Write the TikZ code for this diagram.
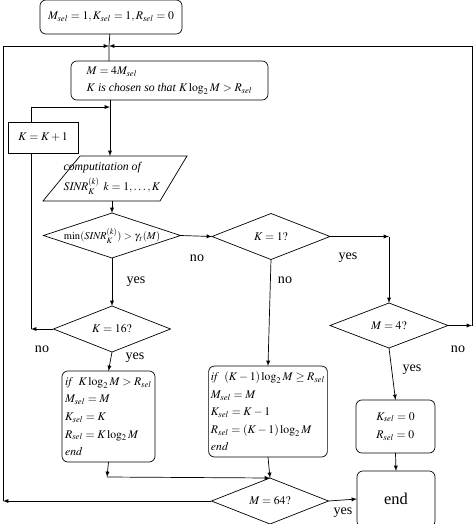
\documentclass[tikz,border=0pt]{standalone}
\usepackage{mathptmx}
\usepackage{fontspec}
\setmainfont{Liberation Serif}
\usetikzlibrary{shapes.geometric}

\begin{document}
\begin{tikzpicture}[x=0.03cm,y=-0.03cm,-latex,semithick,
  rbox/.style={draw,rounded corners=5pt,align=left,inner sep=2pt,outer sep=0pt},
  dec/.style={draw,diamond,inner sep=0pt,outer sep=0pt},
  lab/.style={font=\fontsize{12}{14}\selectfont}]
\path[use as bounding box,clip] (0,0) rectangle (474,524);

\node[rbox,minimum width=4.26cm,minimum height=1.02cm] (init) at (111,17) {$M_{sel}=1, K_{sel}=1, R_{sel}=0$};
\node[rbox,minimum width=5.91cm,minimum height=1.17cm] (init2) at (169.5,80.5) {$M=4M_{sel}$\\[2pt]$K$ \textit{is chosen so that} $K\log_2 M > R_{sel}$};
\node[draw,minimum width=2.1cm,minimum height=0.93cm,outer sep=0pt] (inc) at (43,137.5) {$K=K+1$};
\node[minimum height=1.35cm,align=left,outer sep=0pt] (para) at (112,178.5) {\textit{computitation of}\\[3pt]$\mathit{SINR}_K^{(k)}\;\,k=1,\ldots,K$};
\draw[-] (80,156) -- (187,156) -- (160,201) -- (43,201) -- cycle;

\node[dec,minimum width=4.11cm,minimum height=1.35cm,label={[font=\fontsize{9}{10}\selectfont]center:{$\min(\mathit{SINR}_K^{(k)})>\gamma_{\,t}(M)$}}] (d1) at (112,235.5) {};
\node[dec,minimum width=3.54cm,minimum height=1.38cm,label=center:{$K=1?$}] (d2) at (271,236.5) {};
\node[dec,minimum width=3.51cm,minimum height=1.38cm,label=center:{$K=16?$}] (d3) at (112,329) {};
\node[dec,minimum width=3.54cm,minimum height=1.35cm,label=center:{$M=4?$}] (d5) at (389,325.5) {};
\node[dec,minimum width=3.51cm,minimum height=1.38cm,label=center:{$M=64?$}] (d4) at (270,501) {};

\node[rbox,minimum width=2.79cm,minimum height=2.73cm] (upd1) at (108.5,416.5) {$\mathit{if}\;\;K\log_2 M>R_{sel}$\\[3pt]$M_{sel}=M$\\[3pt]$K_{sel}=K$\\[3pt]$R_{sel}=K\log_2 M$\\[3pt]$\mathit{end}$};
\node[rbox,minimum width=3.42cm,minimum height=2.73cm] (upd2) at (268,411.5) {$\mathit{if}\;\;(K-1)\log_2 M\geq R_{sel}$\\[3pt]$M_{sel}=M$\\[3pt]$K_{sel}=K-1$\\[3pt]$R_{sel}=(K-1)\log_2 M$\\[3pt]$\mathit{end}$};
\node[rbox,minimum width=2.37cm,minimum height=1.59cm] (zero) at (395.5,426.5) {$K_{sel}=0$\\[4pt]$R_{sel}=0$};
\node[rbox,minimum width=2.34cm,minimum height=1.68cm,font=\fontsize{14}{16}\selectfont] (endb) at (396,499) {end};

\coordinate (jn) at (109,46);
\coordinate (lft) at (3,501);
\coordinate (rgt) at (472,325.5);
\coordinate (mrg) at (110,107);
\coordinate (cx) at (31,329);
\coordinate (cr) at (389,236.5);
\coordinate (mg2) at (107,477);

\draw[-] (init) -- (jn) -- (init2.north -| jn);
\draw (lft) |- (jn);
\draw (rgt) |- (jn);
\draw (init2.south -| mrg) -- (para.north -| mrg);
\draw (cx |- inc.north) |- (mrg);
\draw[-] (cx) -- (cx |- inc.south);
\draw (para.south -| d1) -- (d1.north);

\draw (d1.east) -- (d2.west);
\draw (d2.east) -- (cr);
\draw (cr) -- (d5.north);
\draw (d2.south) -- (upd2.north);
\draw (d1.south) -- (d3.north);
\draw (d3.west) -- (cx);
\draw (d3.south) -- (upd1.north);
\draw (d5.east) -- (rgt);
\draw (d5.south) -- (zero.north);
\draw (zero.south) -- (endb.north);
\draw (upd1.south) -- (mg2);
\draw (mg2) -- (d4.north);
\draw (upd2.south) -- (d4.north);
\draw (d4.west) -- (lft);
\draw (d4.east) -- (endb.west);

\node[lab] (no1) at (197,258) {no};
\node[lab] (yes1) at (348,258) {yes};
\node[lab] (no2) at (285,280) {no};
\node[lab] (yes2) at (136,282) {yes};
\node[lab] (no3) at (42,349) {no};
\node[lab] (yes3) at (135,358) {yes};
\node[lab] (no4) at (458,349) {no};
\node[lab] (yes4) at (412,370) {yes};
\node[lab] (yes5) at (343,513) {yes};
\end{tikzpicture}
\end{document}
